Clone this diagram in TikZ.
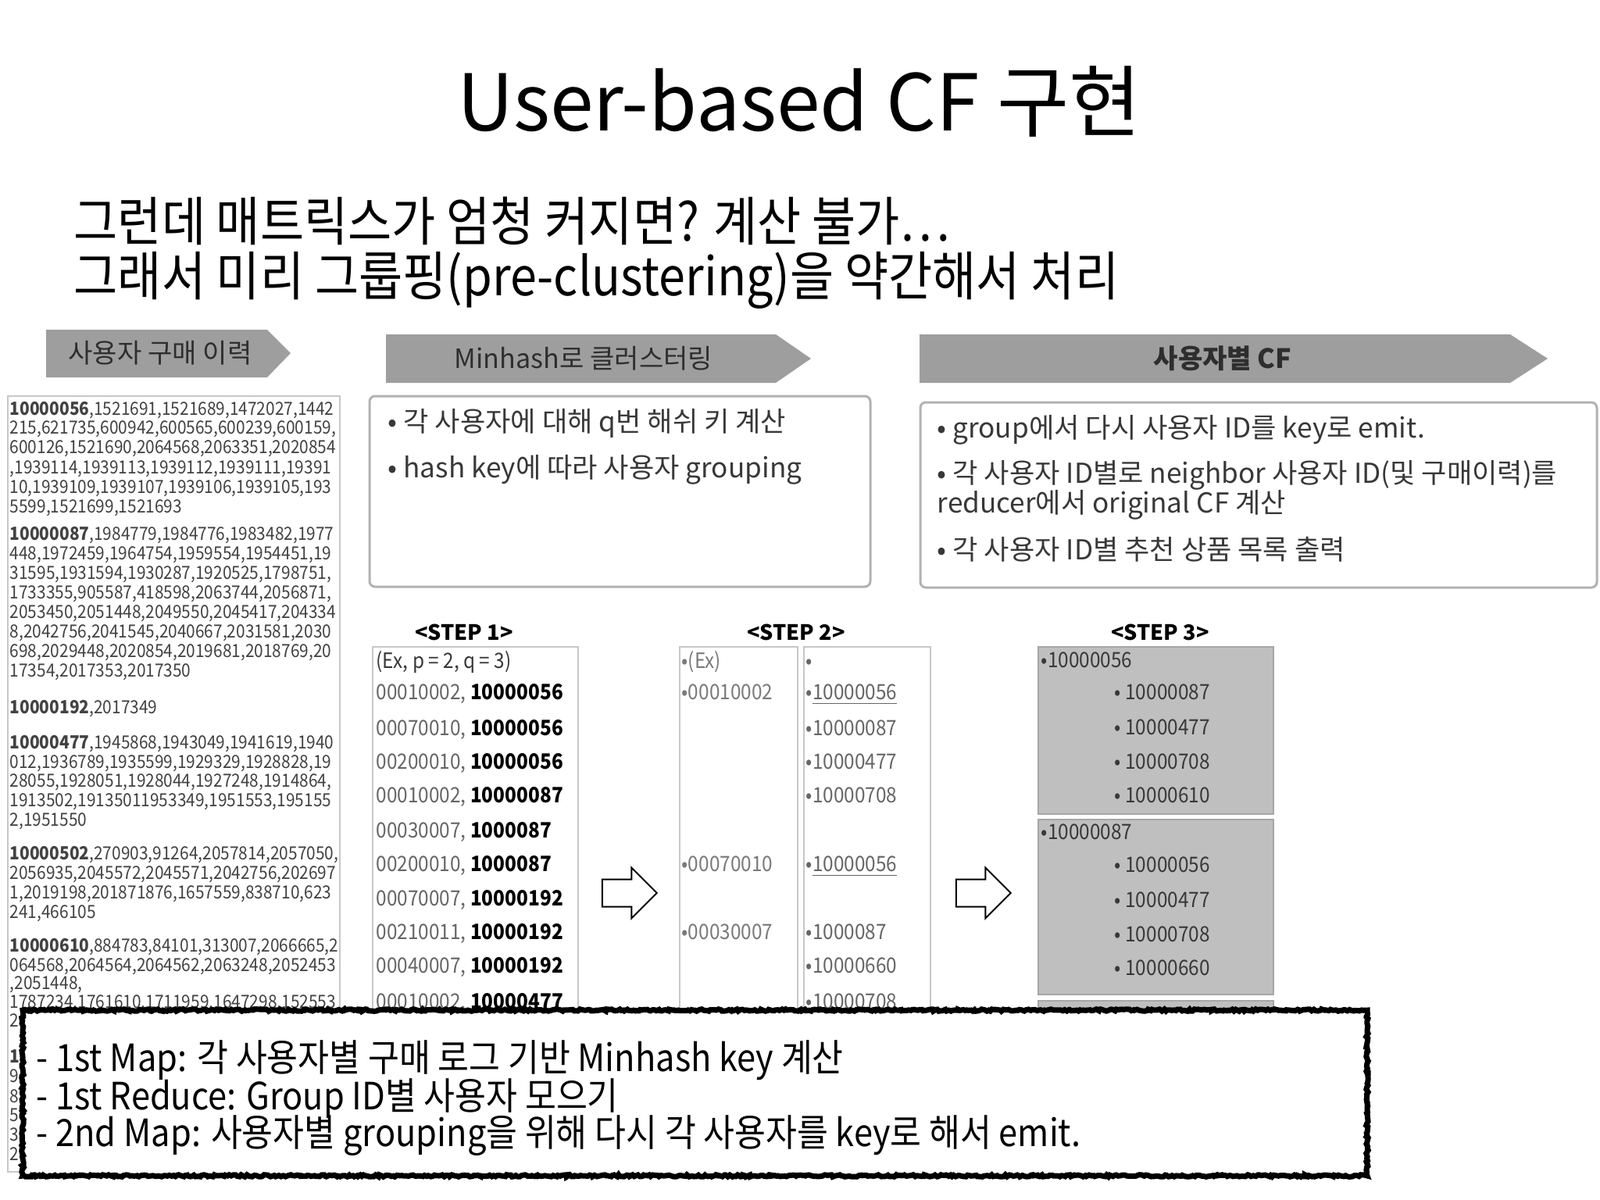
\documentclass[tikz,border=0pt]{standalone}
\usepackage{fontspec}
\setmainfont{Noto Sans CJK KR}
\newfontfamily\narrowfont{Noto Sans CJK KR}[FakeStretch=0.9]
\usetikzlibrary{shapes.arrows,decorations.pathmorphing}

\newlength{\du}
\setlength{\du}{0.01cm}

\definecolor{hdrgray}{rgb}{0.620000, 0.620000, 0.620000}
\definecolor{hdrtext}{rgb}{0.180000, 0.180000, 0.180000}
\definecolor{framegray}{rgb}{0.780000, 0.780000, 0.780000}
\definecolor{roundgray}{rgb}{0.700000, 0.700000, 0.700000}
\definecolor{datagray}{rgb}{0.260000, 0.260000, 0.260000}
\definecolor{boxgray}{rgb}{0.220000, 0.220000, 0.220000}
\definecolor{stepgray}{rgb}{0.400000, 0.400000, 0.400000}
\definecolor{lightgray}{rgb}{0.480000, 0.480000, 0.480000}
\definecolor{cellfill}{rgb}{0.750000, 0.750000, 0.750000}
\definecolor{cellline}{rgb}{0.650000, 0.650000, 0.650000}

\tikzset{
  titletext/.style={anchor=base, inner sep=0pt, font=\fontsize{28.5}{34}\selectfont},
  subtext/.style={anchor=base west, inner sep=0pt, font=\narrowfont\fontsize{19.3}{23}\selectfont},
  hdrlabel/.style={inner sep=0pt, text=hdrtext, font=\fontsize{9.7}{11}\selectfont},
  thinbox/.style={draw=framegray, line width=2\du},
  roundbox/.style={draw=roundgray, line width=3\du, rounded corners=7\du, fill=white},
  datatext/.style={anchor=base west, inner sep=0pt, text=datagray, font=\narrowfont\fontsize{6.6}{8}\selectfont},
  boxtext/.style={anchor=base west, inner sep=0pt, text=boxgray, font=\fontsize{10}{12}\selectfont},
  steplabel/.style={anchor=base, inner sep=0pt, font=\bfseries\fontsize{7.7}{9}\selectfont},
  steptext/.style={anchor=base west, inner sep=0pt, text=stepgray, font=\narrowfont\fontsize{7.7}{9}\selectfont},
  stepfaint/.style={steptext, text=lightgray},
  cellbox/.style={draw=cellline, fill=cellfill, line width=2\du},
  cellitem/.style={anchor=base west, inner sep=0pt, text=boxgray, font=\narrowfont\fontsize{7.7}{9}\selectfont},
  hollowarrow/.style={single arrow, draw=black, fill=white, line width=2\du, inner sep=16.5\du,
    minimum height=70\du, single arrow head extend=15\du},
  roughbox/.style={draw=black, line width=7\du, decorate,
    decoration={random steps, segment length=2.5\du, amplitude=1.3\du}},
  bottomtext/.style={anchor=base west, inner sep=0pt, font=\narrowfont\fontsize{13.7}{16}\selectfont}
}

\begin{document}
\begin{tikzpicture}
\pgftransformxscale{1.000000}
\pgftransformyscale{-1.000000}
\fill[white] (0\du,0\du) rectangle (2048\du,1536\du);
\useasboundingbox (0\du,0\du) rectangle (2048\du,1536\du);

% title and intro lines
\node[titletext] (title) at (1023\du,167\du) {User-based CF 구현};
\node[subtext] (subA) at (94\du,308\du) {그런데 매트릭스가 엄청 커지면? 계산 불가…};
\node[subtext] (subB) at (94\du,378\du) {그래서 미리 그룹핑(pre-clustering)을 약간해서 처리};

% header arrows
\fill[hdrgray] (59\du,422\du)--(342\du,422\du)--(372\du,452\du)--(342\du,483\du)--(59\du,483\du)--cycle;
\node[hdrlabel] (hdrUser) at (205\du,452\du) {사용자 구매 이력};
\fill[hdrgray] (494\du,428\du)--(993\du,428\du)--(1038\du,459\du)--(993\du,490\du)--(494\du,490\du)--cycle;
\node[hdrlabel] (hdrMinhash) at (747\du,459\du) {Minhash로 클러스터링};
\fill[hdrgray] (1177\du,428\du)--(1933\du,428\du)--(1981\du,459\du)--(1933\du,490\du)--(1177\du,490\du)--cycle;
\node[hdrlabel, font=\bfseries\fontsize{9.7}{11}\selectfont] (hdrCF) at (1565\du,459\du) {사용자별 CF};

% purchase log column
\draw[thinbox] (10\du,507\du) rectangle (435\du,1500\du);
\node[datatext] (logA1) at (12\du,531\du) {\textbf{10000056},1521691,1521689,1472027,1442};
\node[datatext] (logA2) at (12\du,555\du) {215,621735,600942,600565,600239,600159,};
\node[datatext] (logA3) at (12\du,580\du) {600126,1521690,2064568,2063351,2020854};
\node[datatext] (logA4) at (12\du,606\du) {,1939114,1939113,1939112,1939111,19391};
\node[datatext] (logA5) at (12\du,631\du) {10,1939109,1939107,1939106,1939105,193};
\node[datatext] (logA6) at (12\du,656\du) {5599,1521699,1521693};
\node[datatext] (logB1) at (12\du,691\du) {\textbf{10000087},1984779,1984776,1983482,1977};
\node[datatext] (logB2) at (12\du,716\du) {448,1972459,1964754,1959554,1954451,19};
\node[datatext] (logB3) at (12\du,741\du) {31595,1931594,1930287,1920525,1798751,};
\node[datatext] (logB4) at (12\du,766\du) {1733355,905587,418598,2063744,2056871,};
\node[datatext] (logB5) at (12\du,791\du) {2053450,2051448,2049550,2045417,204334};
\node[datatext] (logB6) at (12\du,816\du) {8,2042756,2041545,2040667,2031581,2030};
\node[datatext] (logB7) at (12\du,841\du) {698,2029448,2020854,2019681,2018769,20};
\node[datatext] (logB8) at (12\du,866\du) {17354,2017353,2017350};
\node[datatext] (logC1) at (12\du,913\du) {\textbf{10000192},2017349};
\node[datatext] (logD1) at (12\du,958\du) {\textbf{10000477},1945868,1943049,1941619,1940};
\node[datatext] (logD2) at (12\du,983\du) {012,1936789,1935599,1929329,1928828,19};
\node[datatext] (logD3) at (12\du,1007\du) {28055,1928051,1928044,1927248,1914864,};
\node[datatext] (logD4) at (12\du,1032\du) {1913502,19135011953349,1951553,195155};
\node[datatext] (logD5) at (12\du,1057\du) {2,1951550};
\node[datatext] (logE1) at (12\du,1100\du) {\textbf{10000502},270903,91264,2057814,2057050,};
\node[datatext] (logE2) at (12\du,1125\du) {2056935,2045572,2045571,2042756,202697};
\node[datatext] (logE3) at (12\du,1150\du) {1,2019198,201871876,1657559,838710,623};
\node[datatext] (logE4) at (12\du,1175\du) {241,466105};
\node[datatext] (logF1) at (12\du,1218\du) {\textbf{10000610},884783,84101,313007,2066665,2};
\node[datatext] (logF2) at (12\du,1243\du) {064568,2064564,2064562,2063248,2052453};
\node[datatext] (logF3) at (12\du,1266\du) {,2051448,};
\node[datatext] (logF4) at (12\du,1290\du) {1787234,1761610,1711959,1647298,152553};
\node[datatext] (logF5) at (12\du,1314\du) {2};
\node[datatext] (logG1) at (12\du,1360\du) {\textbf{1}};
\node[datatext] (logG2) at (12\du,1385\du) {9};
\node[datatext] (logG3) at (12\du,1411\du) {8};
\node[datatext] (logG4) at (12\du,1435\du) {5};
\node[datatext] (logG5) at (12\du,1460\du) {3};
\node[datatext] (logG6) at (12\du,1485\du) {2};

% minhash box
\draw[roundbox] (473\du,507\du) rectangle (1114\du,751\du);
\node[boxtext] (minA) at (496\du,552\du) {• 각 사용자에 대해 q번 해쉬 키 계산};
\node[boxtext] (minB) at (496\du,611\du) {• hash key에 따라 사용자 grouping};

% per-user CF box
\draw[roundbox] (1178\du,515\du) rectangle (2044\du,752\du);
\node[boxtext] (cfA) at (1199\du,560\du) {• group에서 다시 사용자 ID를 key로 emit.};
\node[boxtext] (cfB) at (1199\du,618\du) {• 각 사용자 ID별로 neighbor 사용자 ID(및 구매이력)를};
\node[boxtext] (cfC) at (1199\du,656\du) {reducer에서 original CF 계산};
\node[boxtext] (cfD) at (1199\du,716\du) {• 각 사용자 ID별 추천 상품 목록 출력};

% step 1
\node[steplabel] (stepOne) at (594\du,819\du) {<STEP 1>};
\draw[thinbox] (477\du,828\du) rectangle (740\du,1320\du);
\node[steptext, text=boxgray] (oneR0) at (481\du,855\du) {(Ex, p = 2, q = 3)};
\node[steptext] (oneR1) at (481\du,895\du) {00010002, \textcolor{black}{\textbf{10000056}}};
\node[steptext] (oneR2) at (481\du,941\du) {00070010, \textcolor{black}{\textbf{10000056}}};
\node[steptext] (oneR3) at (481\du,984\du) {00200010, \textcolor{black}{\textbf{10000056}}};
\node[steptext] (oneR4) at (481\du,1027\du) {00010002, \textcolor{black}{\textbf{10000087}}};
\node[steptext] (oneR5) at (481\du,1072\du) {00030007, \textcolor{black}{\textbf{1000087}}};
\node[steptext] (oneR6) at (481\du,1115\du) {00200010, \textcolor{black}{\textbf{1000087}}};
\node[steptext] (oneR7) at (481\du,1159\du) {00070007, \textcolor{black}{\textbf{10000192}}};
\node[steptext] (oneR8) at (481\du,1202\du) {00210011, \textcolor{black}{\textbf{10000192}}};
\node[steptext] (oneR9) at (481\du,1245\du) {00040007, \textcolor{black}{\textbf{10000192}}};
\node[steptext] (oneR10) at (481\du,1291\du) {00010002, \textcolor{black}{\textbf{10000477}}};

\node[hollowarrow] (arrowOne) at (797\du,1143\du) {};

% step 2
\node[steplabel] (stepTwo) at (1019\du,819\du) {<STEP 2>};
\draw[thinbox] (870\du,828\du) rectangle (1021\du,1320\du);
\draw[thinbox] (1029\du,828\du) rectangle (1191\du,1320\du);
\node[stepfaint] (twoK0) at (872\du,855\du) {•(Ex)};
\node[stepfaint] (twoK1) at (872\du,895\du) {•00010002};
\node[stepfaint] (twoK6) at (872\du,1115\du) {•00070010};
\node[stepfaint] (twoK8) at (872\du,1202\du) {•00030007};
\node[steptext] (twoU0) at (1031\du,855\du) {•};
\node[steptext] (twoU1) at (1031\du,895\du) {•\underline{10000056}};
\node[steptext] (twoU2) at (1031\du,941\du) {•10000087};
\node[steptext] (twoU3) at (1031\du,984\du) {•10000477};
\node[steptext] (twoU4) at (1031\du,1027\du) {•10000708};
\node[steptext] (twoU6) at (1031\du,1115\du) {•\underline{10000056}};
\node[steptext] (twoU8) at (1031\du,1202\du) {•1000087};
\node[steptext] (twoU9) at (1031\du,1245\du) {•10000660};
\node[steptext] (twoU10) at (1031\du,1291\du) {•10000708};

\node[hollowarrow] (arrowTwo) at (1250\du,1143\du) {};

% step 3
\node[steplabel] (stepThree) at (1485\du,819\du) {<STEP 3>};
\draw[cellbox] (1329\du,828\du) rectangle (1630\du,1042\du);
\draw[cellbox] (1329\du,1049\du) rectangle (1630\du,1273\du);
\draw[cellbox] (1329\du,1281\du) rectangle (1630\du,1330\du);
\node[cellitem] (thrA) at (1332\du,854\du) {•10000056};
\node[cellitem] (thrA1) at (1426\du,895\du) {• 10000087};
\node[cellitem] (thrA2) at (1426\du,940\du) {• 10000477};
\node[cellitem] (thrA3) at (1426\du,984\du) {• 10000708};
\node[cellitem] (thrA4) at (1426\du,1027\du) {• 10000610};
\node[cellitem] (thrB) at (1332\du,1074\du) {•10000087};
\node[cellitem] (thrB1) at (1426\du,1116\du) {• 10000056};
\node[cellitem] (thrB2) at (1426\du,1161\du) {• 10000477};
\node[cellitem] (thrB3) at (1426\du,1205\du) {• 10000708};
\node[cellitem] (thrB4) at (1426\du,1248\du) {• 10000660};

% map/reduce notes
\fill[white] (29\du,1293\du) rectangle (1750\du,1505\du);
\draw[roughbox] (29\du,1293\du) rectangle (1750\du,1505\du);
\node[bottomtext] (noteA) at (46\du,1371\du) {- 1st Map: 각 사용자별 구매 로그 기반 Minhash key 계산};
\node[bottomtext] (noteB) at (46\du,1420\du) {- 1st Reduce: Group ID별 사용자 모으기};
\node[bottomtext] (noteC) at (46\du,1467\du) {- 2nd Map: 사용자별 grouping을 위해 다시 각 사용자를 key로 해서 emit.};
\end{tikzpicture}
\end{document}
